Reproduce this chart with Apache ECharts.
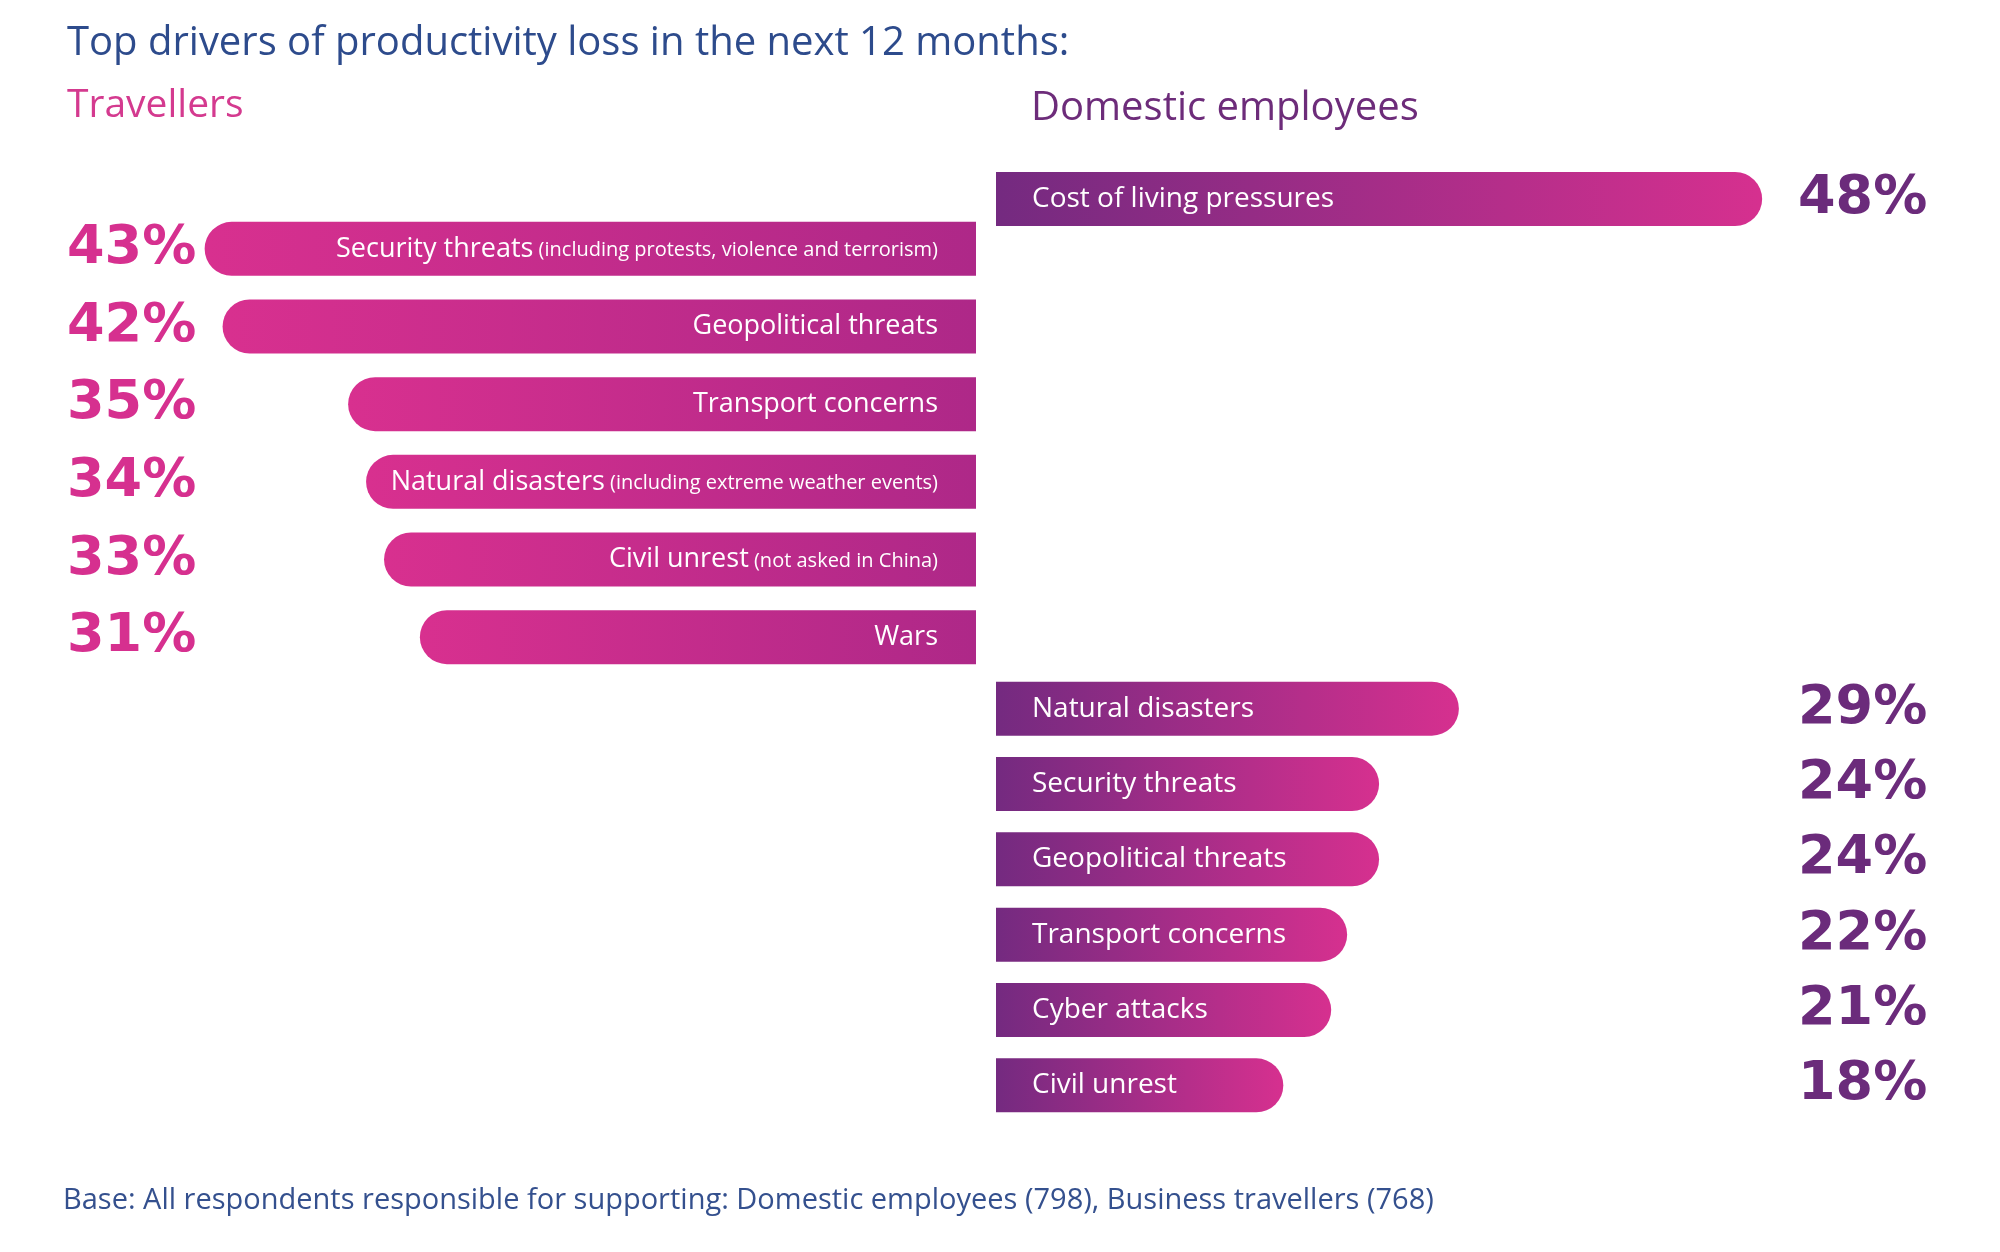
<!DOCTYPE html>
<html>
<head>
<meta charset="utf-8">
<title>Top drivers of productivity loss</title>
<script src="https://cdn.jsdelivr.net/npm/echarts@6/dist/echarts.min.js"></script>
<style>
  html, body { margin: 0; padding: 0; background: #fff; }
  #chart { width: 2000px; height: 1252px; }
</style>
</head>
<body>
<div id="chart"></div>
<script>
// travellers (left side)
const travCats = [
  'Security threats|(including protests, violence and terrorism)',
  'Geopolitical threats|',
  'Transport concerns|',
  'Natural disasters|(including extreme weather events)',
  'Civil unrest|(not asked in China)',
  'Wars|'
];
const travVals = [43, 42, 35, 34, 33, 31];

// domestic employees (right side), top item shown apart
const domTopCats = ['Cost of living pressures'];
const domTopVals = [48];
const domCats = ['Natural disasters', 'Security threats', 'Geopolitical threats', 'Transport concerns', 'Cyber attacks', 'Civil unrest'];
const domVals = [29, 24, 24, 22, 21, 18];

const FONT = '"Open Sans", Lato, sans-serif';
const PCT_FONT = '"DejaVu Sans", sans-serif';
const PINK = '#d6308f';
const PURPLE = '#6b2b7b';

const chart = echarts.init(document.getElementById('chart'));

function pct(v) { return v + '%'; }

const leftGrad = new echarts.graphic.LinearGradient(0, 0, 1, 0, [
  { offset: 0, color: '#d8308f' },
  { offset: 1, color: '#ae2888' }
]);
const rightGrad = new echarts.graphic.LinearGradient(0, 0, 1, 0, [
  { offset: 0, color: '#742a80' },
  { offset: 1, color: '#d6308f' }
]);

const leftRich = {
  main: { color: '#fff', fontSize: 27, fontFamily: FONT },
  sub: { color: '#fff', fontSize: 20, fontFamily: FONT, padding: [3, 0, 0, 0] }
};
const rightRich = {
  main: { color: '#fff', fontSize: 28, fontFamily: FONT }
};

function valueAxis(idx, inverse, max) {
  return {
    gridIndex: idx, type: 'value', min: 0, max: max, inverse: inverse,
    show: false, splitLine: { show: false }
  };
}

function catAxis(idx, cats) {
  return {
    gridIndex: idx, type: 'category', data: cats, inverse: true,
    axisLine: { show: false }, axisTick: { show: false }, axisLabel: { show: false }
  };
}

// percentage column drawn as a second category axis
function pctAxis(idx, vals, pos, color, margin) {
  return {
    gridIndex: idx, type: 'category', data: vals.map(pct), inverse: true,
    position: pos,
    axisLine: { show: false }, axisTick: { show: false },
    axisLabel: {
      show: true, interval: 0, align: 'left', margin: margin,
      color: color, fontSize: 54, fontWeight: 'bold', fontFamily: PCT_FONT
    }
  };
}

const option = {
  backgroundColor: '#fff',
  animation: false,
  title: [
    {
      text: 'Top drivers of productivity loss in the next 12 months:',
      left: 62, top: 19,
      textStyle: { color: '#2d4b8c', fontSize: 40, fontWeight: 'normal', fontFamily: FONT }
    },
    {
      text: 'Travellers',
      left: 62, top: 81,
      textStyle: { color: '#d43a8f', fontSize: 39, fontWeight: 'normal', fontFamily: FONT }
    },
    {
      text: 'Domestic employees',
      left: 1026, top: 84,
      textStyle: { color: '#6d2c7a', fontSize: 40, fontWeight: 'normal', fontFamily: FONT }
    },
    {
      text: 'Base: All respondents responsible for supporting: Domestic employees (798), Business travellers (768)',
      left: 58, top: 1181,
      textStyle: { color: '#34508e', fontSize: 29, fontWeight: 'normal', fontFamily: FONT }
    }
  ],
  grid: [
    { left: 97, width: 879, top: 210, height: 466 },
    { left: 996, width: 830, top: 161, height: 76 },
    { left: 996, width: 830, top: 671, height: 452 }
  ],
  xAxis: [
    valueAxis(0, true, 49),
    valueAxis(1, false, 52),
    valueAxis(2, false, 52)
  ],
  yAxis: [
    catAxis(0, travCats),
    pctAxis(0, travVals, 'left', PINK, 30),
    catAxis(1, domTopCats),
    pctAxis(1, domTopVals, 'right', PURPLE, -28),
    catAxis(2, domCats),
    pctAxis(2, domVals, 'right', PURPLE, -28)
  ],
  series: [
    {
      type: 'bar', xAxisIndex: 0, yAxisIndex: 0, data: travVals,
      barWidth: 54,
      itemStyle: { color: leftGrad, borderRadius: [27, 0, 0, 27] },
      label: {
        show: true, position: 'insideRight', distance: 38, overflow: 'none',
        formatter: function (p) {
          const parts = travCats[p.dataIndex].split('|');
          return '{main|' + parts[0] + '}' + (parts[1] ? '{sub| ' + parts[1] + '}' : '');
        },
        rich: leftRich
      }
    },
    {
      type: 'bar', xAxisIndex: 1, yAxisIndex: 2, data: domTopVals,
      barWidth: 54,
      itemStyle: { color: rightGrad, borderRadius: [0, 27, 27, 0] },
      label: {
        show: true, position: 'insideLeft', distance: 36, overflow: 'none',
        formatter: '{main|{b}}', rich: rightRich
      }
    },
    {
      type: 'bar', xAxisIndex: 2, yAxisIndex: 4, data: domVals,
      barWidth: 54,
      itemStyle: { color: rightGrad, borderRadius: [0, 27, 27, 0] },
      label: {
        show: true, position: 'insideLeft', distance: 36, overflow: 'none',
        formatter: '{main|{b}}', rich: rightRich
      }
    }
  ]
};

chart.setOption(option);
</script>
</body>
</html>
